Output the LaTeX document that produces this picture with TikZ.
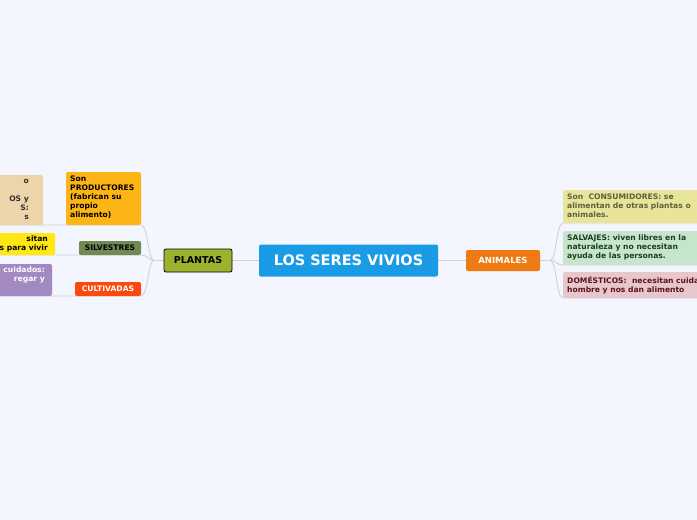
\documentclass[tikz,border=0pt]{standalone}
\usepackage{fontspec}
\setmainfont{DejaVu Sans}
\begin{document}
\begin{tikzpicture}[x=1pt,y=-1pt,
  box/.style={rounded corners=2pt,inner sep=0pt,anchor=north west},
  txt/.style={font=\bfseries\fontsize{7.6}{9}\selectfont,align=left,anchor=north west,inner sep=0pt},
  conn/.style={draw=black!18,line width=0.9pt}]
\useasboundingbox (0,0) rectangle (697,520);
\fill[fill={rgb,255:red,243;green,246;blue,254}] (0,0) rectangle (697,520);
\begin{scope}
\clip (0,0) rectangle (697,520);
% connectors
\coordinate (pl) at (164,260.5);
\coordinate (an) at (540,260.5);
\draw[conn] (pl) -- (154,260.5) .. controls (148,260.5) and (148,225) .. (141,225) -- (0,225);
\draw[conn] (154,260.5) .. controls (148,260.5) and (148,255) .. (141,255) -- (0,255);
\draw[conn] (154,260.5) .. controls (148,260.5) and (148,296) .. (141,296) -- (0,296);
\draw[conn] (232,260.5) -- (259,260.5);
\draw[conn] (438,260.5) -- (466,260.5);
\draw[conn] (an) -- (550,260.5) .. controls (557,260.5) and (556,223) .. (563,223) -- (697,223);
\draw[conn] (550,260.5) .. controls (557,260.5) and (556,265) .. (563,265) -- (697,265);
\draw[conn] (550,260.5) .. controls (557,260.5) and (556,298) .. (563,298) -- (697,298);
% center
\node[box,fill={rgb,255:red,26;green,155;blue,230},minimum width=179pt,minimum height=32pt,anchor=center,
  text=white,font=\bfseries\fontsize{14.5}{16}\selectfont] (c) at (348.5,260.5) {LOS SERES VIVIOS};
\node[box,fill={rgb,255:red,156;green,178;blue,46},draw=black,line width=0.8pt,minimum width=68pt,minimum height=23pt,anchor=center,
  font=\bfseries\fontsize{9.5}{11}\selectfont] (p) at (198,260.5) {PLANTAS};
\node[box,fill={rgb,255:red,239;green,122;blue,18},minimum width=74pt,minimum height=21pt,anchor=center,text=white,
  font=\bfseries\fontsize{8.5}{10}\selectfont] (a) at (503,260.5) {ANIMALES};
% left boxes
\fill[rounded corners=2pt,fill={rgb,255:red,253;green,181;blue,21}] (66,172) rectangle (141,225);
\node[txt] (prod) at (70,176) {Son\\PRODUCTORES\\(fabrican su\\propio\\alimento)};
\node[box,fill={rgb,255:red,111;green,138;blue,85},minimum width=62pt,minimum height=14pt,anchor=center,
  font=\bfseries\fontsize{7.6}{9}\selectfont] (s) at (110,248) {SILVESTRES};
\node[box,fill={rgb,255:red,252;green,74;blue,14},minimum width=66pt,minimum height=14pt,anchor=center,text=white,
  font=\bfseries\fontsize{7.6}{9}\selectfont] (cu) at (108,289) {CULTIVADAS};
\fill[rounded corners=2pt,fill={rgb,255:red,236;green,213;blue,168}] (-10,175) rectangle (43,225);
\node[txt,align=right,anchor=north east,text=black!80] (tan) at (29,179) {o\\\\OS y\\S:\\s};
\fill[rounded corners=2pt,fill={rgb,255:red,255;green,230;blue,20}] (-10,233) rectangle (55,255);
\node[txt,align=right,anchor=north east] (ye) at (48,236) {sitan\\s para vivir};
\fill[rounded corners=2pt,fill={rgb,255:red,163;green,137;blue,194}] (-10,264) rectangle (52,296);
\node[txt,align=right,anchor=north east,text=white] (pu) at (45,267) {n cuidados:\\regar y};
% right boxes
\fill[rounded corners=2pt,fill={rgb,255:red,232;green,229;blue,155}] (563,190) rectangle (710,223);
\node[txt,text={rgb,255:red,95;green,95;blue,60}] (con) at (567,194) {Son\ \ CONSUMIDORES: se\\alimentan de otras plantas o\\animales.};
\fill[rounded corners=2pt,fill={rgb,255:red,198;green,230;blue,204}] (563,231) rectangle (710,265);
\node[txt,text={rgb,255:red,30;green,60;blue,35}] (sal) at (567,235) {SALVAJES: viven libres en la\\naturaleza y no necesitan\\ayuda de las personas.};
\fill[rounded corners=2pt,fill={rgb,255:red,231;green,198;blue,204}] (563,272) rectangle (710,298);
\node[txt,text={rgb,255:red,90;green,20;blue,30}] (dom) at (567,276) {DOMÉSTICOS:\ \ necesitan cuidados del\\hombre y nos dan alimento};
\end{scope}
\end{tikzpicture}
\end{document}
